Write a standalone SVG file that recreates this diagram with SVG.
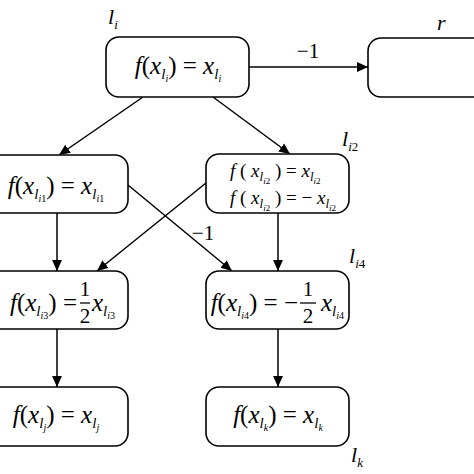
<svg xmlns="http://www.w3.org/2000/svg" width="474" height="474" viewBox="0 0 474 474" font-family="Liberation Serif">
<style>
.box{fill:#fff;stroke:#000;stroke-width:1.6}
.ln{fill:none;stroke:#000;stroke-width:1.5}
.m{font-size:25px;font-family:"Liberation Serif"}
.m2{font-size:19px;font-family:"Liberation Serif"}
.i{font-style:italic}
.lab{font-size:22px;font-family:"Liberation Serif"}
.n{font-family:"Liberation Serif";font-size:21px}
</style>
<defs>
<marker id="ah" viewBox="0 0 10 10" refX="10" refY="5" markerWidth="11" markerHeight="11" markerUnits="userSpaceOnUse" orient="auto">
<path d="M0,0.5 L10,5 L0,9.5 Z" fill="#000"/>
</marker>
</defs>
<rect x="0" y="0" width="474" height="474" fill="#fff"/>
<g id="connectors">
<line class="ln" x1="249" y1="67" x2="368" y2="67" marker-end="url(#ah)"/>
<text class="n" x="308" y="58" text-anchor="middle">−1</text>
<line class="ln" x1="143" y1="97" x2="59" y2="155" marker-end="url(#ah)"/>
<line class="ln" x1="213" y1="97" x2="290" y2="154" marker-end="url(#ah)"/>
<line class="ln" x1="57" y1="213" x2="57" y2="271" marker-end="url(#ah)"/>
<line class="ln" x1="278" y1="213" x2="278" y2="271" marker-end="url(#ah)"/>
<line class="ln" x1="128" y1="185" x2="232" y2="271" marker-end="url(#ah)"/>
<text class="n" x="203" y="240" text-anchor="middle">−1</text>
<line class="ln" x1="206" y1="183" x2="97" y2="271" marker-end="url(#ah)"/>
<line class="ln" x1="57" y1="329" x2="57" y2="387" marker-end="url(#ah)"/>
<line class="ln" x1="278" y1="329" x2="278" y2="387" marker-end="url(#ah)"/>
</g>
<g id="n_li">
<rect class="box" x="106" y="37" width="143" height="60" rx="13"/>
<text class="m" x="178" y="74" text-anchor="middle"><tspan class="i">f</tspan>(<tspan class="i">x</tspan><tspan class="i" font-size="15" dy="5">l</tspan><tspan class="i" font-size="10" dy="3">i</tspan><tspan dy="-8">) = </tspan><tspan class="i">x</tspan><tspan class="i" font-size="15" dy="5">l</tspan><tspan class="i" font-size="10" dy="3">i</tspan></text>
<text class="lab i" x="108" y="24">l<tspan font-size="13" dy="5">i</tspan></text>
</g>
<g id="n_r">
<rect class="box" x="368" y="38" width="130" height="59" rx="13"/>
<text class="lab i" x="437" y="30">r</text>
</g>
<g id="n_li1">
<rect class="box" x="-16" y="155" width="144" height="58" rx="13"/>
<text class="m" x="56" y="194" text-anchor="middle"><tspan class="i">f</tspan>(<tspan class="i">x</tspan><tspan class="i" font-size="15" dy="5">l</tspan><tspan font-size="10" dy="3"><tspan class="i">i</tspan>1</tspan><tspan dy="-8">) = </tspan><tspan class="i">x</tspan><tspan class="i" font-size="15" dy="5">l</tspan><tspan font-size="10" dy="3"><tspan class="i">i</tspan>1</tspan></text>
</g>
<g id="n_li2">
<rect class="box" x="206" y="154" width="143" height="59" rx="13"/>
<text class="m2" x="230" y="177"><tspan class="i">f</tspan> ( <tspan class="i">x</tspan><tspan class="i" font-size="13" dy="4">l</tspan><tspan font-size="9" dy="3"><tspan class="i">i</tspan>2</tspan><tspan dy="-7"> ) =  </tspan><tspan class="i">x</tspan><tspan class="i" font-size="13" dy="4">l</tspan><tspan font-size="9" dy="3"><tspan class="i">i</tspan>2</tspan></text>
<text class="m2" x="230" y="204"><tspan class="i">f</tspan> ( <tspan class="i">x</tspan><tspan class="i" font-size="13" dy="4">l</tspan><tspan font-size="9" dy="3"><tspan class="i">i</tspan>2</tspan><tspan dy="-7"> ) = − </tspan><tspan class="i">x</tspan><tspan class="i" font-size="13" dy="4">l</tspan><tspan font-size="9" dy="3"><tspan class="i">i</tspan>2</tspan></text>
<text class="lab i" x="342" y="146">l<tspan font-size="13" font-style="normal" dy="5"><tspan class="i">i</tspan>2</tspan></text>
</g>
<g id="n_li3">
<rect class="box" x="-16" y="271" width="144" height="58" rx="13"/>
<text class="m" x="77" y="311" text-anchor="end"><tspan class="i">f</tspan>(<tspan class="i">x</tspan><tspan class="i" font-size="15" dy="5">l</tspan><tspan font-size="10" dy="3"><tspan class="i">i</tspan>3</tspan><tspan dy="-8">) =</tspan></text>
<text class="n" x="85" y="296" text-anchor="middle">1</text>
<line x1="80" y1="303" x2="90" y2="303" stroke="#000" stroke-width="1.3"/>
<text class="n" x="85" y="323" text-anchor="middle">2</text>
<text class="m" x="92" y="311"><tspan class="i">x</tspan><tspan class="i" font-size="15" dy="5">l</tspan><tspan font-size="10" dy="3"><tspan class="i">i</tspan>3</tspan></text>
</g>
<g id="n_li4">
<rect class="box" x="206" y="271" width="143" height="58" rx="13"/>
<text class="m" x="298" y="311" text-anchor="end"><tspan class="i">f</tspan>(<tspan class="i">x</tspan><tspan class="i" font-size="15" dy="5">l</tspan><tspan font-size="10" dy="3"><tspan class="i">i</tspan>4</tspan><tspan dy="-8">) = −</tspan></text>
<text class="n" x="308" y="296" text-anchor="middle">1</text>
<line x1="300" y1="303" x2="316" y2="303" stroke="#000" stroke-width="1.3"/>
<text class="n" x="308" y="323" text-anchor="middle">2</text>
<text class="m" x="321" y="311"><tspan class="i">x</tspan><tspan class="i" font-size="15" dy="5">l</tspan><tspan font-size="10" dy="3"><tspan class="i">i</tspan>4</tspan></text>
<text class="lab i" x="349" y="263">l<tspan font-size="13" font-style="normal" dy="5"><tspan class="i">i</tspan>4</tspan></text>
</g>
<g id="n_lj">
<rect class="box" x="-16" y="387" width="144" height="59" rx="13"/>
<text class="m" x="56" y="423" text-anchor="middle"><tspan class="i">f</tspan>(<tspan class="i">x</tspan><tspan class="i" font-size="15" dy="5">l</tspan><tspan class="i" font-size="10" dy="3">j</tspan><tspan dy="-8">) = </tspan><tspan class="i">x</tspan><tspan class="i" font-size="15" dy="5">l</tspan><tspan class="i" font-size="10" dy="3">j</tspan></text>
</g>
<g id="n_lk">
<rect class="box" x="206" y="387" width="143" height="59" rx="13"/>
<text class="m" x="278" y="423" text-anchor="middle"><tspan class="i">f</tspan>(<tspan class="i">x</tspan><tspan class="i" font-size="15" dy="5">l</tspan><tspan class="i" font-size="10" dy="3">k</tspan><tspan dy="-8">) = </tspan><tspan class="i">x</tspan><tspan class="i" font-size="15" dy="5">l</tspan><tspan class="i" font-size="10" dy="3">k</tspan></text>
<text class="lab i" x="351" y="462">l<tspan font-size="13" dy="5">k</tspan></text>
</g>
</svg>
